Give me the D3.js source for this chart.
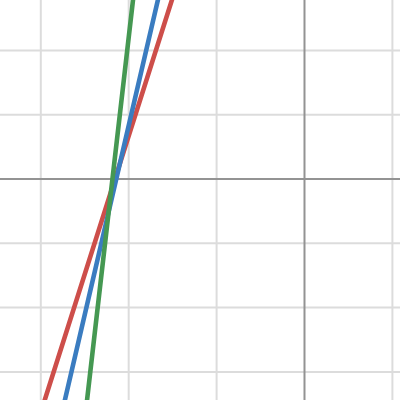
<!DOCTYPE html>
<html>
<head>
<meta charset="utf-8">
<script src="https://cdn.jsdelivr.net/npm/d3@7"></script>
<style>
  html, body { margin: 0; padding: 0; background: #fff; }
  svg { display: block; }
</style>
</head>
<body>
<svg id="graph"></svg>
<script>
// grid values
var xTicks = [-3, -2, -1, 0, 1];
var yTicks = [-3, -2, -1, 0, 1, 2];

// the three lines, y = m*x + b
var lineNames = ["red", "blue", "green"];
var slopes = [4.3, 5.88, 11.9];
var intercepts = [9.27, 12.59, 26.0];
var colors = { red: "#cd4e4a", blue: "#3a7cc0", green: "#459852" };

var width = 400,
    height = 400;

var svg = d3.select("#graph")
    .attr("width", width)
    .attr("height", height);

// x: 1 unit ~ 87.9px, y axis at 304.5 ; y: 1 unit ~ 64.3px, x axis at 179
var x = d3.scaleLinear().domain([-3.464, 1.0865]).range([0, width]);
var y = d3.scaleLinear().domain([2.784, -3.437]).range([0, height]);

var grid = svg.append("g");

grid.selectAll(".vgrid").data(xTicks).enter().append("line")
    .attr("class", "vgrid")
    .attr("x1", d => x(d)).attr("x2", d => x(d))
    .attr("y1", 0).attr("y2", height)
    .attr("stroke", d => d == 0 ? "#939393" : "#dcdcdc")
    .attr("stroke-width", 2);

grid.selectAll(".hgrid").data(yTicks).enter().append("line")
    .attr("class", "hgrid")
    .attr("x1", 0).attr("x2", width)
    .attr("y1", d => y(d)).attr("y2", d => y(d))
    .attr("stroke", d => d == 0 ? "#939393" : "#dcdcdc")
    .attr("stroke-width", 2);

// redraw the axes on top of the light grid
grid.selectAll(".vgrid").filter(d => d == 0).raise();

var line = d3.line()
    .x(d => x(d[0]))
    .y(d => y(d[1]));

var xs = x.domain();

lineNames.forEach(function(name, i) {
    var pts = xs.map(v => [v, slopes[i] * v + intercepts[i]]);
    svg.append("path")
        .attr("d", line(pts))
        .attr("fill", "none")
        .attr("stroke", colors[name])
        .attr("stroke-width", 4.6)
        .attr("stroke-linecap", "round");
});
</script>
</body>
</html>
